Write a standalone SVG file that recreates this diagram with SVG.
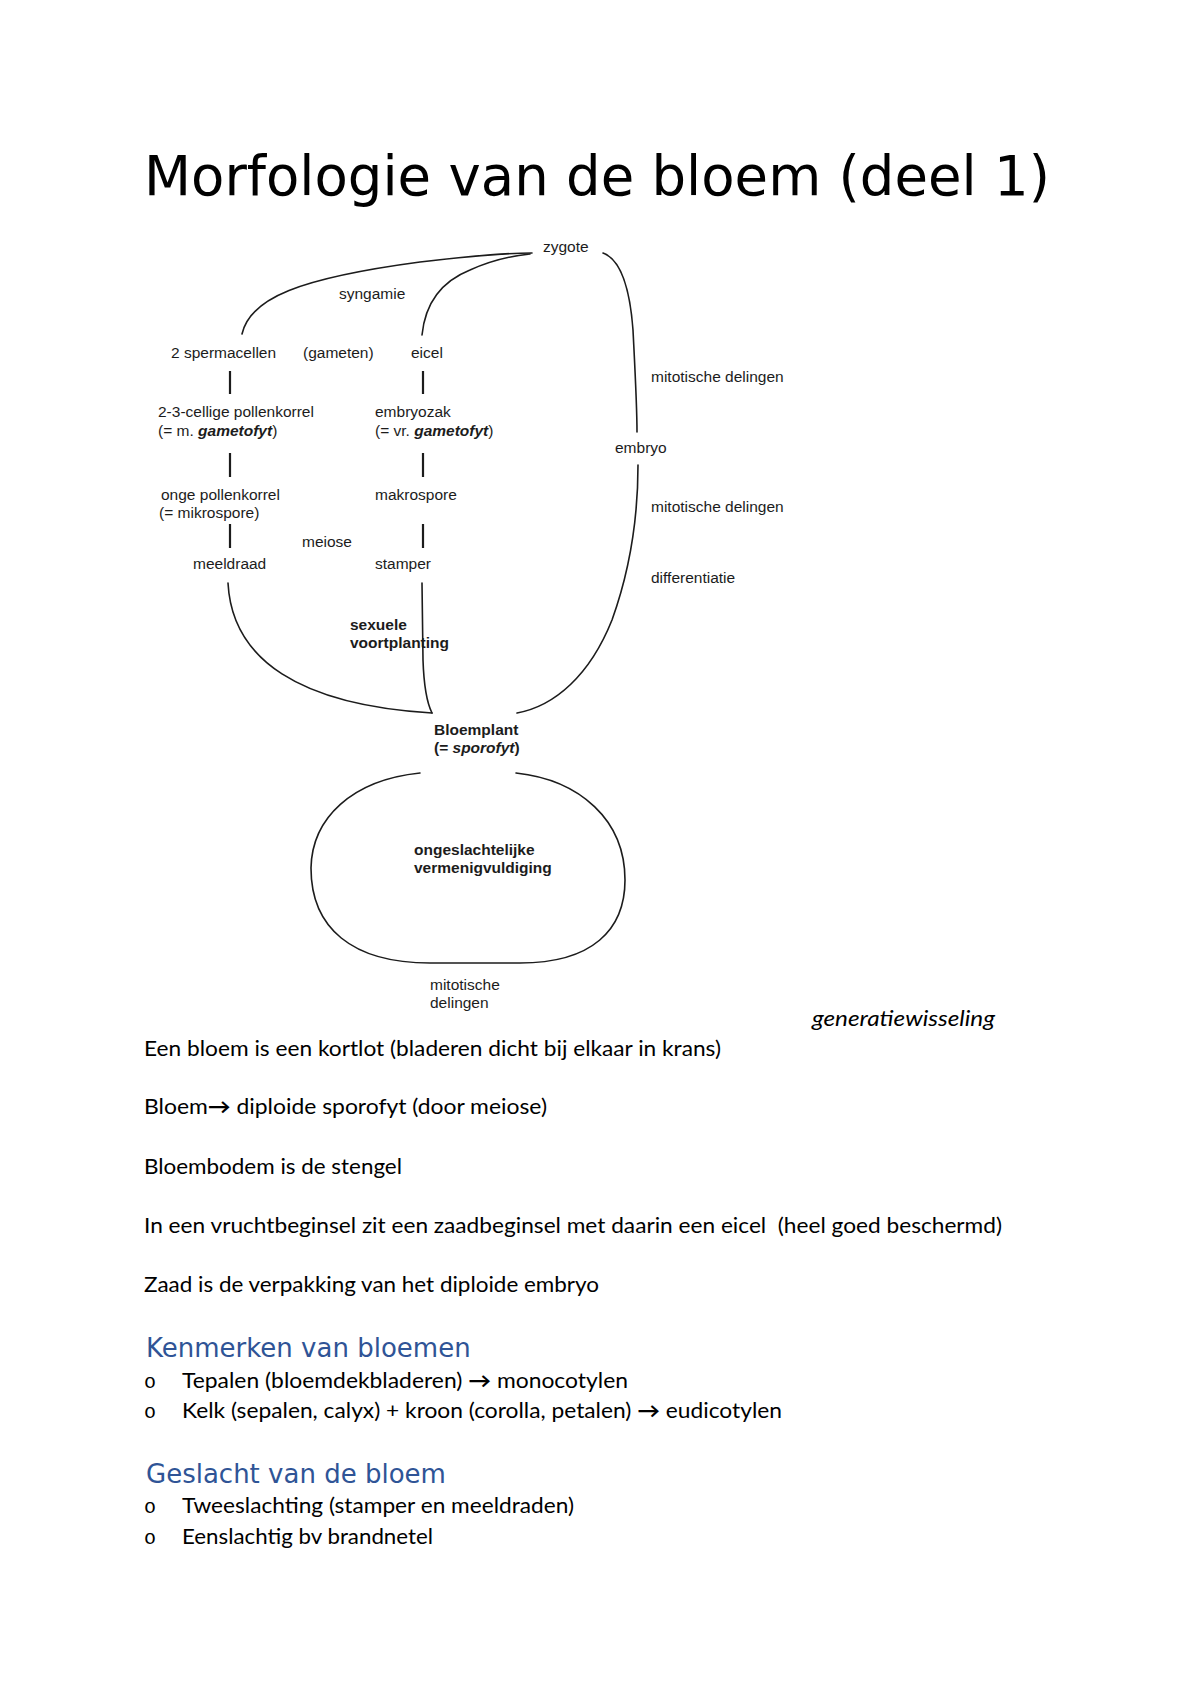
<svg xmlns="http://www.w3.org/2000/svg" width="1200" height="1698" viewBox="0 0 1200 1698">
<style>
.bg{fill:#ffffff}
.title{font-family:"DejaVu Sans",sans-serif;font-size:54.5px;fill:#000}
.d{font-family:"Liberation Sans",Arial,sans-serif;font-size:15.5px;fill:#1c1c1c}
.b{font-weight:bold}
.bi{font-weight:bold;font-style:italic}
.body{font-family:Lato,"Liberation Sans",sans-serif;font-size:20.5px;fill:#000}
.it{font-style:italic}
.h{font-family:"DejaVu Sans",sans-serif;font-size:26px;fill:#2F5496}
.bul{font-family:"Liberation Mono",monospace;font-size:20px;fill:#000}
.ln{fill:none;stroke:#1c1c1c;stroke-width:1.6;stroke-linecap:round}
.bar{fill:none;stroke:#1c1c1c;stroke-width:2.2}
</style>
<rect class="bg" x="0" y="0" width="1200" height="1698"/>
<text id="title" class="title" x="144" y="195" textLength="906" lengthAdjust="spacingAndGlyphs">Morfologie van de bloem (deel 1)</text>

<g id="connectors">
  <path class="ln" d="M242,334 C250,298 300,278 420,262 C470,256 505,253 532,253"/>
  <path class="ln" d="M422,335 C425,305 440,282 470,270 C490,261 510,256 530,254"/>
  <path class="ln" d="M603,253 C622,260 630,290 633,330 C635,370 637,405 637,432"/>
  <path class="ln" d="M638,465 C638,520 630,570 612,620 C590,675 555,706 517,713"/>
  <path class="ln" d="M228,583 C232,660 300,705 432,713"/>
  <path class="ln" d="M422,583 L423,660 C424,690 428,705 432,713"/>
  <path class="ln" d="M420,773 C352,780 312,818 311,868 C311,928 352,963 430,963 L520,963 C592,963 625,930 625,880 C625,820 580,780 516,773"/>
  <line class="bar" x1="230" y1="371" x2="230" y2="394"/>
  <line class="bar" x1="423" y1="371" x2="423" y2="394"/>
  <line class="bar" x1="230" y1="453" x2="230" y2="477"/>
  <line class="bar" x1="423" y1="453" x2="423" y2="477"/>
  <line class="bar" x1="230" y1="524" x2="230" y2="548"/>
  <line class="bar" x1="423" y1="524" x2="423" y2="548"/>
</g>

<g id="zygote"><text class="d" x="543" y="252">zygote</text></g>
<g id="syngamie"><text class="d" x="339" y="299">syngamie</text></g>
<g id="spermacellen"><text class="d" x="171" y="358">2 spermacellen</text></g>
<g id="gameten"><text class="d" x="303" y="358">(gameten)</text></g>
<g id="eicel"><text class="d" x="411" y="358">eicel</text></g>
<g id="pollenkorrel"><text class="d" x="158" y="417">2-3-cellige pollenkorrel</text><text class="d" x="158" y="436">(= m. <tspan class="bi">gametofyt</tspan>)</text></g>
<g id="embryozak"><text class="d" x="375" y="417">embryozak</text><text class="d" x="375" y="436">(= vr. <tspan class="bi">gametofyt</tspan>)</text></g>
<g id="jonge-pollenkorrel"><text class="d" x="161" y="500">onge pollenkorrel</text><text class="d" x="159" y="518">(= mikrospore)</text></g>
<g id="makrospore"><text class="d" x="375" y="500">makrospore</text></g>
<g id="meiose"><text class="d" x="302" y="547">meiose</text></g>
<g id="meeldraad"><text class="d" x="193" y="569">meeldraad</text></g>
<g id="stamper"><text class="d" x="375" y="569">stamper</text></g>
<g id="sexuele"><text class="d b" x="350" y="630">sexuele</text><text class="d b" x="350" y="648">voortplanting</text></g>
<g id="bloemplant"><text class="d b" x="434" y="735">Bloemplant</text><text class="d b" x="434" y="753">(= <tspan class="bi">sporofyt</tspan>)</text></g>
<g id="mitotisch1"><text class="d" x="651" y="382">mitotische delingen</text></g>
<g id="embryo"><text class="d" x="615" y="453">embryo</text></g>
<g id="mitotisch2"><text class="d" x="651" y="512">mitotische delingen</text></g>
<g id="differentiatie"><text class="d" x="651" y="583">differentiatie</text></g>
<g id="ongeslachtelijk"><text class="d b" x="414" y="855">ongeslachtelijke</text><text class="d b" x="414" y="873">vermenigvuldiging</text></g>
<g id="mitotisch3"><text class="d" x="430" y="990">mitotische</text><text class="d" x="430" y="1008">delingen</text></g>

<g id="text-body">
  <text class="body it" x="812" y="1026" textLength="183" lengthAdjust="spacingAndGlyphs">generatiewisseling</text>
  <text class="body" x="144" y="1056" textLength="577" lengthAdjust="spacingAndGlyphs">Een bloem is een kortlot (bladeren dicht bij elkaar in krans)</text>
  <text class="body" x="144" y="1114" textLength="403" lengthAdjust="spacingAndGlyphs">Bloem<tspan font-weight="bold">→</tspan> diploide sporofyt (door meiose)</text>
  <text class="body" x="144" y="1174" textLength="258" lengthAdjust="spacingAndGlyphs">Bloembodem is de stengel</text>
  <text class="body" x="144" y="1233" textLength="858" lengthAdjust="spacingAndGlyphs" style="white-space:pre">In een vruchtbeginsel zit een zaadbeginsel met daarin een eicel  (heel goed beschermd)</text>
  <text class="body" x="144" y="1292" textLength="455" lengthAdjust="spacingAndGlyphs">Zaad is de verpakking van het diploide embryo</text>
</g>

<g id="kenmerken">
  <text class="h" x="146" y="1357">Kenmerken van bloemen</text>
  <text class="bul" x="144" y="1388">o</text>
  <text class="body" x="182" y="1388" textLength="446" lengthAdjust="spacingAndGlyphs">Tepalen (bloemdekbladeren) <tspan font-weight="bold">→</tspan> monocotylen</text>
  <text class="bul" x="144" y="1418">o</text>
  <text class="body" x="182" y="1418" textLength="600" lengthAdjust="spacingAndGlyphs">Kelk (sepalen, calyx) + kroon (corolla, petalen) <tspan font-weight="bold">→</tspan> eudicotylen</text>
</g>

<g id="geslacht">
  <text class="h" x="146" y="1483">Geslacht van de bloem</text>
  <text class="bul" x="144" y="1513">o</text>
  <text class="body" x="182" y="1513" textLength="392" lengthAdjust="spacingAndGlyphs">Tweeslachting (stamper en meeldraden)</text>
  <text class="bul" x="144" y="1544">o</text>
  <text class="body" x="182" y="1544" textLength="251" lengthAdjust="spacingAndGlyphs">Eenslachtig bv brandnetel</text>
</g>
</svg>
